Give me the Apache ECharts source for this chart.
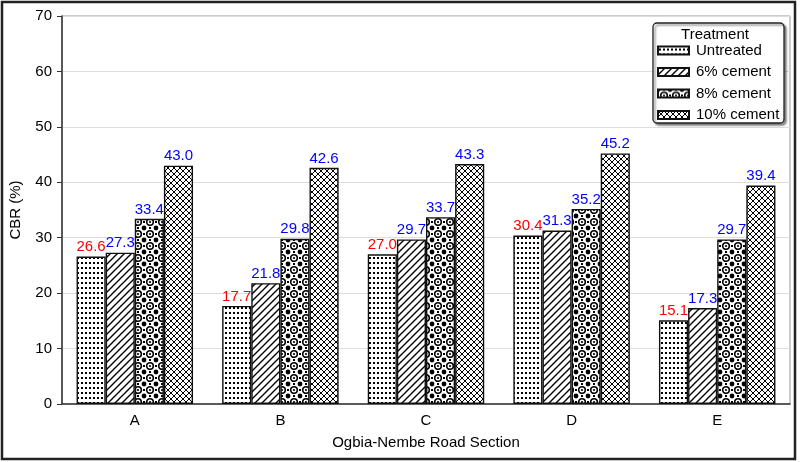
<!DOCTYPE html>
<html><head><meta charset="utf-8">
<script src="https://cdn.jsdelivr.net/npm/echarts@6/dist/echarts.min.js"></script>
<style>html,body{margin:0;padding:0;background:#fff}#c{width:800px;height:462px}</style>
</head><body><div id="c"></div>
<script>
const categories = ['A','B','C','D','E'];
const seriesNames = ['Untreated','6% cement','8% cement','10% cement'];
const untreated = [26.6, 17.7, 27.0, 30.4, 15.1];
const cement6 = [27.3, 21.8, 29.7, 31.3, 17.3];
const cement8 = [33.4, 29.8, 33.7, 35.2, 29.7];
const cement10 = [43.0, 42.6, 43.3, 45.2, 39.4];
const labelColors = ['#ff0000','#0000ff','#0000ff','#0000ff'];

function tile(w,h,draw){const c=document.createElement('canvas');c.width=w;c.height=h;const x=c.getContext('2d');x.fillStyle='#fff';x.fillRect(0,0,w,h);x.fillStyle='#000';x.strokeStyle='#000';draw(x);return {image:c,repeat:'repeat'};}
const patDots = tile(4,5,x=>{x.fillRect(1,2,2,2);});
const patDiag = tile(7,7,x=>{x.lineWidth=1.4;x.beginPath();x.moveTo(-1,8);x.lineTo(8,-1);x.moveTo(-8,8);x.lineTo(1,-1);x.moveTo(6,8);x.lineTo(15,-1);x.stroke();});
const patRing = tile(12,12,x=>{x.lineWidth=1.6;x.beginPath();x.arc(6,6,3.3,0,Math.PI*2);x.stroke();x.beginPath();x.arc(6,6,1.1,0,Math.PI*2);x.fill();
  [[0,0],[12,0],[0,12],[12,12]].forEach(p=>{x.beginPath();x.arc(p[0],p[1],2.4,0,Math.PI*2);x.fill();});
  x.fillRect(5,0,2,1);x.fillRect(5,11,2,1);x.fillRect(0,5,1,2);x.fillRect(11,5,1,2);});
const patCross = tile(6,6,x=>{x.lineWidth=1;x.beginPath();x.moveTo(0,0);x.lineTo(6,6);x.moveTo(6,0);x.lineTo(0,6);x.moveTo(-1,5);x.lineTo(1,7);x.moveTo(5,-1);x.lineTo(7,1);x.moveTo(5,7);x.lineTo(7,5);x.moveTo(-1,1);x.lineTo(1,-1);x.stroke();});
const patterns=[patDots,patDiag,patRing,patCross];
const datasets=[untreated,cement6,cement8,cement10];
const FF='Liberation Sans, Arial';

const chart=echarts.init(document.getElementById('c'),null,{renderer:'canvas'});
chart.setOption({
  animation:false,
  backgroundColor:'#fff',
  grid:{left:62,right:10,top:16,bottom:58,show:true,borderColor:'#999',borderWidth:1},
  legend:{orient:'vertical',left:657,top:43,padding:0,itemWidth:31,itemHeight:8,itemGap:6.5,icon:'rect',
    textStyle:{fontSize:15,color:'#000',fontFamily:FF,lineHeight:15,padding:[0,0,0,2]},data:seriesNames,z:10},
  graphic:[
    {type:'rect',z:5,shape:{x:2,y:2,width:793,height:457},style:{fill:'none',stroke:'#222',lineWidth:2.5}},
    {type:'rect',z:5,shape:{x:653,y:23,width:131,height:100,r:4},style:{fill:'#fff',stroke:'#222',lineWidth:1.3,shadowColor:'rgba(0,0,0,0.45)',shadowOffsetX:2,shadowOffsetY:2,shadowBlur:2}},
    {type:'text',z:6,x:715,y:35,style:{text:'Treatment',fontSize:15,fill:'#000',fontFamily:FF,align:'center',verticalAlign:'middle'}}
  ],
  xAxis:{type:'category',data:categories,
    axisLine:{lineStyle:{color:'#333',width:1.5}},
    axisTick:{alignWithLabel:true,length:5,lineStyle:{color:'#333'}},
    axisLabel:{fontSize:15,color:'#000',margin:9,fontFamily:FF},
    name:'Ogbia-Nembe Road Section',nameLocation:'middle',nameGap:31,
    nameTextStyle:{fontSize:15,color:'#000',fontFamily:FF}},
  yAxis:{type:'value',min:0,max:70,interval:10,
    axisLine:{show:true,lineStyle:{color:'#333',width:1.5}},
    axisTick:{show:true,length:5,lineStyle:{color:'#333'}},
    splitLine:{lineStyle:{color:'#ddd'}},
    axisLabel:{fontSize:15,color:'#000',margin:10,fontFamily:FF},
    name:'CBR (%)',nameLocation:'middle',nameGap:39,
    nameTextStyle:{fontSize:15,color:'#000',fontFamily:FF}},
  series:datasets.map((d,i)=>({
    name:seriesNames[i],type:'bar',data:d,barGap:'0%',barCategoryGap:'20%',
    itemStyle:{color:patterns[i],borderColor:'#111',borderWidth:1.4},
    label:{show:true,position:'top',distance:2,fontSize:15,color:labelColors[i],fontFamily:FF,
      formatter:p=>p.value.toFixed(1)}
  }))
});
</script></body></html>
